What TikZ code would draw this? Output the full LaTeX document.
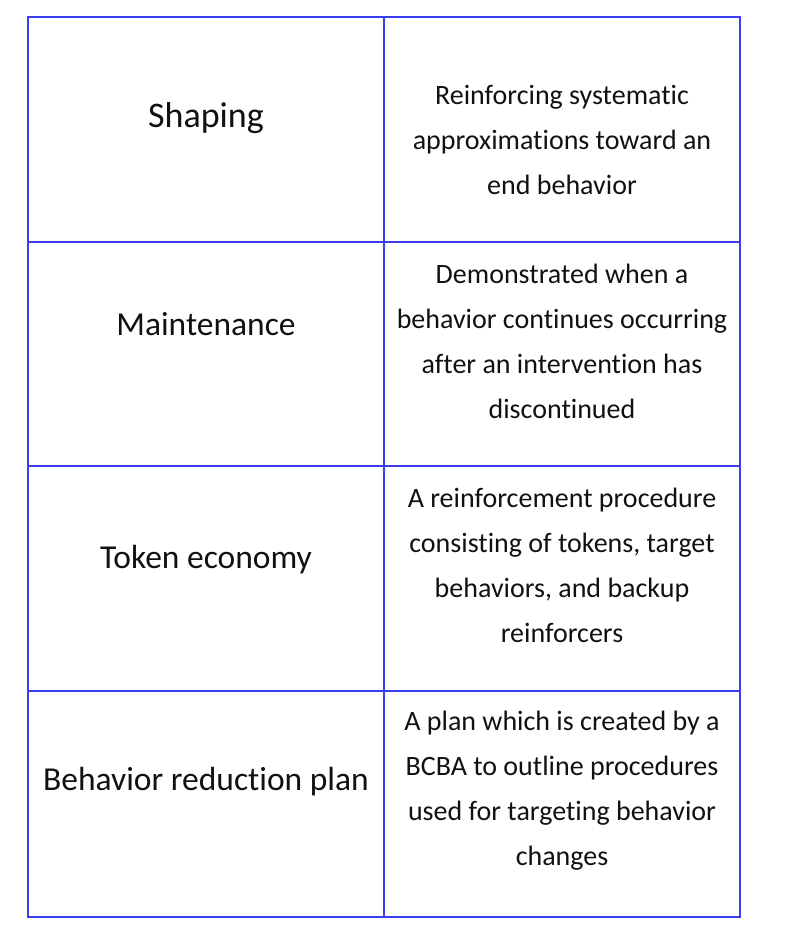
\documentclass[tikz,border=0pt]{standalone}
\usepackage{fontspec}
\setmainfont[Ligatures=NoCommon]{Carlito}
\usepackage{xcolor}
\definecolor{rule}{HTML}{3D3DF0}
\definecolor{ink}{HTML}{111111}
\tikzset{
  grid/.style={draw=rule, line width=2pt},
  term/.style={text=ink, font=\fontsize{33.5}{40}\selectfont, align=center},
  defn/.style={text=ink, font=\fontsize{28}{45}\selectfont, align=center}
}
\begin{document}
\begin{tikzpicture}[x=1pt,y=-1pt]
\useasboundingbox (0,0) rectangle (794,949);
% frame
\draw[grid] (28,17) rectangle (740,917);
% column split
\draw[grid] (384,17)--(384,917);
% row splits
\draw[grid] (28,242)--(740,242);
\draw[grid] (28,466)--(740,466);
\draw[grid] (28,691)--(740,691);

% terms
\node[term, font=\fontsize{36}{40}\selectfont] (shaping) at (206,118) {Shaping};
\node[term] (maint) at (206,324) {Maintenance};
\node[term] (token) at (206,560) {Token economy};
\node[term] (reduce) at (206,782) {Behavior reduction plan};

% definitions
\node[defn] (dshaping) at (562,139.5) {Reinforcing systematic\\approximations toward an\\end behavior};
\node[defn] (dmaint) at (562,341) {Demonstrated when a\\behavior continues occurring\\after an intervention has\\discontinued};
\node[defn] (dtoken) at (562,565) {A reinforcement procedure\\consisting of tokens, target\\behaviors, and backup\\reinforcers};
\node[defn] (dreduce) at (562,790.5) {A plan which is created by a\\BCBA to outline procedures\\used for targeting behavior\\changes};
\end{tikzpicture}
\end{document}
